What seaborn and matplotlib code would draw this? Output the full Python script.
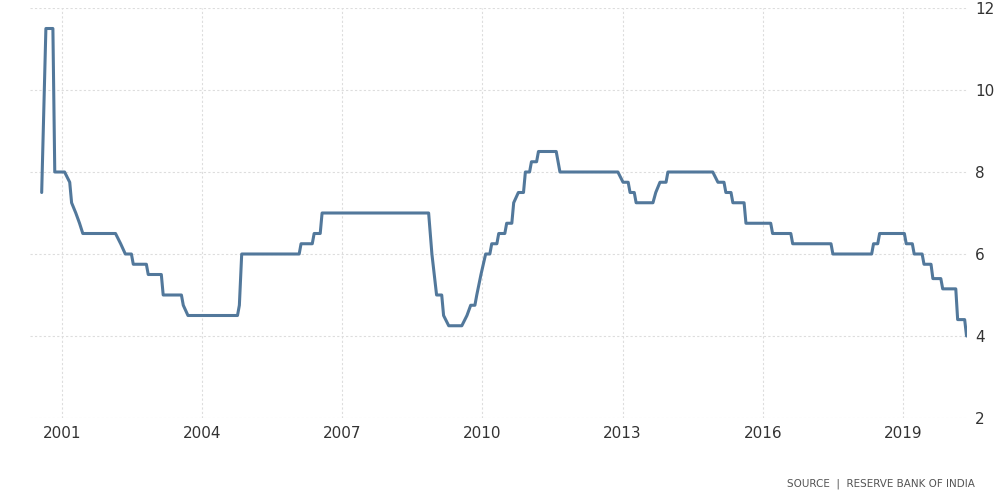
import matplotlib
matplotlib.use("Agg")
import matplotlib.pyplot as plt
import seaborn as sns
import pandas as pd

# change points (decimal year, repo rate %)
years = [2000.57, 2000.66, 2000.85, 2001.06, 2001.17, 2001.21, 2001.30, 2001.38, 2001.45,
         2002.15, 2002.26, 2002.36, 2002.53, 2002.85, 2003.17, 2003.60, 2003.70, 2004.76, 2004.80,
         2004.85, 2005.91, 2006.12, 2006.40, 2006.57, 2008.85, 2008.92, 2009.02, 2009.17, 2009.28,
         2009.56, 2009.67, 2009.75, 2009.88, 2009.97, 2010.07, 2010.20, 2010.35, 2010.52, 2010.67,
         2010.77, 2010.92, 2011.05, 2011.20, 2011.58, 2011.66, 2012.90, 2013.01, 2013.16, 2013.29,
         2013.65, 2013.71, 2013.80, 2013.97, 2014.93, 2015.04, 2015.21, 2015.36, 2015.64, 2016.21,
         2016.64, 2017.50, 2018.37, 2018.50, 2019.07, 2019.24, 2019.45, 2019.64,
         2019.85, 2020.17, 2020.36]
rates = [7.5, 11.5, 8.0, 8.0, 7.75, 7.25, 7.0, 6.75, 6.5,
         6.5, 6.25, 6.0, 5.75, 5.5, 5.0, 4.75, 4.5, 4.5, 4.75,
         6.0, 6.0, 6.25, 6.5, 7.0, 7.0, 6.0, 5.0, 4.5, 4.25,
         4.25, 4.5, 4.75, 5.0, 5.5, 6.0, 6.25, 6.5, 6.75, 7.25,
         7.5, 8.0, 8.25, 8.5, 8.5, 8.0, 8.0, 7.75, 7.5, 7.25,
         7.25, 7.5, 7.75, 8.0, 8.0, 7.75, 7.5, 7.25, 6.75, 6.5,
         6.25, 6.0, 6.25, 6.5, 6.25, 6.0, 5.75, 5.4,
         5.15, 4.4, 4.0]
x_ticks = [2001, 2004, 2007, 2010, 2013, 2016, 2019]
y_ticks = [2, 4, 6, 8, 10, 12]

# build path: hold each value until shortly before the next change, then ramp
px, py = [], []
for i in range(len(years)):
    px.append(years[i]); py.append(rates[i])
    if i + 1 < len(years):
        dt = years[i + 1] - years[i]
        if dt > 0.12 and rates[i] != rates[i + 1]:
            px.append(years[i + 1] - 0.04); py.append(rates[i])
df = pd.DataFrame({"year": px, "rate": py})

sns.set_style("white")
fig = plt.figure(figsize=(10, 5), dpi=100)
ax = fig.add_axes([0.030, 0.164, 0.937, 0.820])
sns.lineplot(data=df, x="year", y="rate", ax=ax, color="#52789b", linewidth=2.2,
             sort=False, estimator=None)
ax.set_xlim(2000.32, 2020.37)
ax.set_ylim(2, 12)
ax.set_xticks(x_ticks)
ax.set_xticklabels([str(t) for t in x_ticks])
ax.set_yticks(y_ticks)
ax.yaxis.tick_right()
ax.grid(True, color="#dddddd", linestyle=(0, (2, 2)), linewidth=0.8)
for s in ax.spines.values():
    s.set_visible(False)
ax.tick_params(length=0, labelsize=11, colors="#333333", pad=6)
ax.set_xlabel("")
ax.set_ylabel("")
fig.text(0.975, 0.022, "SOURCE  |  RESERVE BANK OF INDIA", ha="right", va="bottom",
         fontsize=7.5, color="#555555")
fig.savefig("out.png")
